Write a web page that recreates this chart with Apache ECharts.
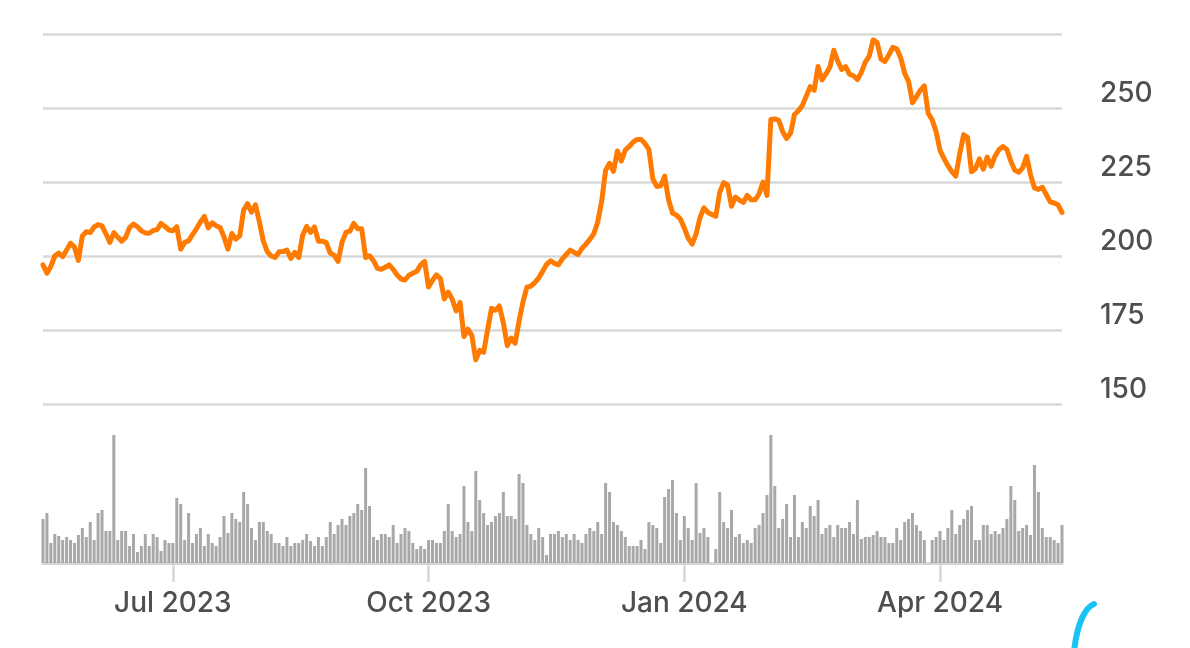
<!DOCTYPE html>
<html><head><meta charset="utf-8">
<style>html,body{margin:0;padding:0;background:#fff}#chart{width:1190px;height:648px}</style>
<script src="https://cdn.jsdelivr.net/npm/echarts@6/dist/echarts.min.js"></script>
</head><body><div id="chart"></div>
<script>
// trading session range (weekdays) and quarter ticks
const startDate = '2023-05-17';
const endDate = '2024-05-14';
const tickDates = ['2023-07-03', '2023-10-02', '2024-01-01', '2024-04-01'];
const tickLabels = ['Jul 2023', 'Oct 2023', 'Jan 2024', 'Apr 2024'];
const priceTicks = [150, 175, 200, 225, 250];

// closing prices, one per weekday
const closes = [
197.0,194.2,196.5,200.0,201.0,199.8,202.0,204.3,203.0,198.5,
206.8,208.2,207.9,209.8,210.6,210.2,207.5,204.6,207.9,206.4,
205.0,206.3,209.6,210.8,209.9,208.5,207.8,207.7,208.6,208.9,
211.0,210.0,208.8,208.5,209.9,202.3,204.6,205.1,207.2,209.2,
211.5,213.4,209.5,211.2,210.2,209.6,206.5,202.3,207.6,205.7,
206.8,215.5,217.7,214.8,217.3,211.5,205.0,201.5,200.0,199.5,
201.4,201.5,202.0,199.2,201.2,199.5,207.0,210.0,208.0,209.8,
205.0,205.0,204.5,201.0,200.3,198.2,204.6,208.0,208.4,211.0,
209.2,209.2,199.5,200.1,198.4,195.8,195.5,196.2,197.0,195.5,
193.6,192.2,191.9,193.5,194.2,194.8,197.0,198.2,189.5,191.8,
193.6,192.4,185.5,187.8,185.5,181.4,184.3,172.8,175.3,173.1,
164.9,168.1,167.5,175.0,182.3,181.7,183.1,177.5,169.7,172.3,
170.5,178.0,184.5,189.5,189.8,191.0,192.6,194.8,197.2,198.4,
197.5,197.0,199.0,200.5,202.0,201.2,200.5,202.6,204.0,205.6,
207.5,211.5,218.5,229.0,231.3,228.6,235.5,232.1,235.8,237.0,
238.5,239.4,239.4,238.0,236.0,226.0,223.5,223.7,227.0,219.0,
214.5,213.8,212.5,209.5,206.0,204.0,207.5,213.0,216.3,214.7,
214.0,213.4,221.5,224.8,224.0,216.8,219.9,218.9,218.1,220.5,
219.0,219.0,221.0,225.0,220.5,246.1,246.3,245.8,242.0,239.7,
241.5,247.8,249.1,250.8,254.0,257.2,256.0,264.0,259.5,261.5,
263.8,269.5,265.8,263.0,264.0,261.4,260.9,259.6,262.0,265.5,
267.5,273.0,272.2,266.5,265.7,268.0,270.5,270.0,267.0,261.8,
259.0,251.8,253.8,256.0,257.5,248.2,246.0,242.0,235.7,233.0,
230.5,228.5,227.0,234.5,241.0,240.0,228.5,229.5,232.8,229.3,
233.4,230.3,233.8,236.0,237.0,236.0,232.0,229.0,228.3,229.8,
233.7,227.5,223.0,222.5,223.2,220.8,218.3,217.9,217.3,214.7
];

// volume (millions), one per weekday; null = no session
const volumes = [
4.4,5.0,2.0,2.9,2.7,2.3,2.6,2.3,2.0,2.8,
3.5,2.6,4.1,2.3,5.0,5.3,3.2,3.2,12.8,2.3,
3.2,3.2,1.7,2.9,1.1,1.7,2.9,1.7,2.9,2.6,
1.2,2.3,2.0,2.0,6.5,5.9,2.3,5.0,2.0,2.9,
3.5,1.7,2.9,2.0,1.7,2.6,4.7,3.0,5.0,4.4,
4.1,7.1,5.9,3.5,2.3,4.1,4.1,3.2,2.9,2.0,
2.0,1.7,2.6,1.7,2.0,2.0,2.3,2.9,2.2,1.7,
2.6,1.7,2.6,4.1,2.9,3.8,4.4,3.8,4.7,5.0,
5.9,5.3,9.5,5.7,2.6,2.3,2.9,2.9,2.6,3.8,
2.0,2.9,3.5,3.2,2.0,1.4,1.7,1.4,2.3,2.3,
2.0,2.0,3.2,5.9,3.2,2.6,2.9,7.7,4.1,3.2,
9.2,6.3,5.0,3.8,4.1,4.7,5.0,7.1,4.7,4.7,
4.4,8.9,8.0,3.8,2.9,2.3,3.5,2.6,0.8,2.9,
2.9,3.2,2.6,2.9,2.3,2.9,2.3,2.0,2.9,3.5,
3.2,4.1,2.9,8.0,7.1,4.1,3.8,3.2,2.6,1.7,
1.7,1.7,2.3,1.4,4.1,3.8,3.5,2.0,6.6,7.4,
8.3,5.0,2.3,4.7,3.5,2.3,8.0,3.0,3.5,2.6,
null,1.4,7.1,4.1,3.5,5.3,2.6,2.9,2.0,2.3,
2.0,3.5,3.8,5.0,6.8,12.8,7.7,3.5,4.4,5.9,
2.6,6.8,2.6,4.1,3.5,5.7,4.7,6.3,2.9,3.5,
3.8,2.6,3.8,3.5,3.5,4.1,2.9,6.3,2.4,2.6,
2.6,2.8,3.2,2.6,2.6,2.0,2.0,3.5,2.3,4.1,
4.4,5.0,3.8,3.2,2.3,null,2.3,2.6,3.2,2.3,
3.5,5.3,2.9,3.8,4.4,5.3,5.7,2.3,2.3,3.8,
3.8,2.9,3.2,2.9,3.5,4.4,7.7,6.3,3.2,3.5,
3.8,2.8,9.8,7.1,3.5,2.6,2.6,2.3,2.0,3.8
];

function weekdays(a, b) {
  const out = [];
  const d = new Date(a + 'T00:00:00Z');
  const e = new Date(b + 'T00:00:00Z');
  while (d <= e) {
    const w = d.getUTCDay();
    if (w !== 0 && w !== 6) out.push(d.toISOString().slice(0, 10));
    d.setUTCDate(d.getUTCDate() + 1);
  }
  return out;
}
const dates = weekdays(startDate, endDate);
const isTick = (idx, val) => tickDates.indexOf(val) >= 0;
const FONT = 'Inter';
const TEXT = '#4f4f4f';

const chart = echarts.init(document.getElementById('chart'), null, { renderer: 'canvas' });
chart.setOption({
  animation: false,
  backgroundColor: '#ffffff',
  grid: [
    { left: 43, right: 128, top: 34, height: 370 },
    { left: 43, right: 128, top: 423, height: 140 }
  ],
  xAxis: [
    { type: 'category', gridIndex: 0, data: dates, boundaryGap: false, show: false },
    {
      type: 'category', gridIndex: 1, data: dates, boundaryGap: false,
      axisLine: { show: true, lineStyle: { color: '#d6d6d6', width: 3 } },
      axisTick: { show: true, interval: isTick, length: 19, lineStyle: { color: '#d6d6d6', width: 2.5 } },
      axisLabel: {
        interval: isTick,
        formatter: v => tickLabels[tickDates.indexOf(v)] || '',
        margin: 27, fontSize: 28, fontWeight: 500, color: TEXT, fontFamily: FONT
      },
      splitLine: { show: false }
    }
  ],
  yAxis: [
    {
      type: 'value', gridIndex: 0, position: 'right', min: 150, max: 275, interval: 25,
      axisLine: { show: false }, axisTick: { show: false },
      splitLine: { show: true, lineStyle: { color: '#d9d9d9', width: 2.5 } },
      axisLabel: {
        formatter: v => priceTicks.indexOf(v) >= 0 ? String(v) : '',
        margin: 38, fontSize: 28, fontWeight: 500, color: TEXT, fontFamily: FONT,
        verticalAlign: 'bottom', lineHeight: 28, padding: [0, 0, 0, 0]
      }
    },
    { type: 'value', gridIndex: 1, min: 0, max: 14, show: false, splitLine: { show: false } }
  ],
  series: [
    {
      type: 'bar', xAxisIndex: 1, yAxisIndex: 1, data: volumes,
      barWidth: 3, clip: false, itemStyle: { color: '#a8a8a8' }, silent: true
    },
    {
      type: 'line', xAxisIndex: 0, yAxisIndex: 0, data: closes,
      showSymbol: false, symbol: 'none', smooth: false, clip: false,
      lineStyle: { color: '#ff7a00', width: 5, cap: 'round', join: 'round' }
    }
  ],
  graphic: [
    {
      type: 'bezierCurve',
      shape: { x1: 1094, y1: 604, cpx1: 1086, cpy1: 607, cpx2: 1077, cpy2: 622, x2: 1074, y2: 652 },
      style: { stroke: '#18c4f3', lineWidth: 6, fill: null, lineCap: 'round' }
    }
  ]
});
</script>
</body></html>
